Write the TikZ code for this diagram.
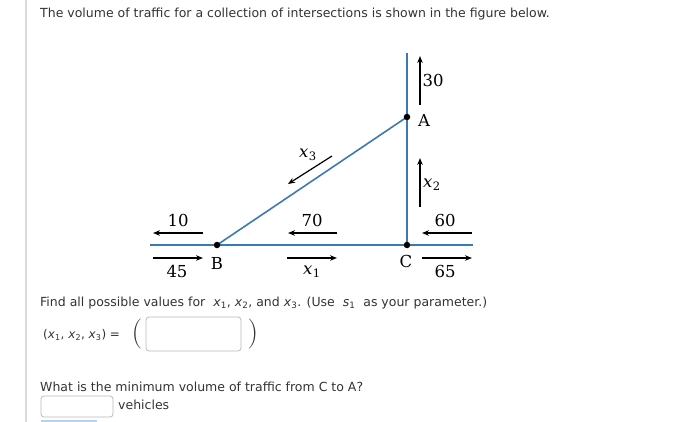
\documentclass[tikz,border=0pt]{standalone}
\usepackage{fontspec}
\newfontfamily\uifont{DejaVu Sans}
\newfontfamily\labfont{DejaVu Serif}
\usetikzlibrary{positioning, arrows, arrows.meta, backgrounds}
\definecolor{road}{HTML}{3B78B4}
\definecolor{rim}{HTML}{DADADA}
\definecolor{ink}{HTML}{333333}
\definecolor{focus}{HTML}{B9D3EE}
\newcommand{\vx}[1]{\textit{x}\textsubscript{#1}}
\newcommand{\fx}[1]{\textit{x}\kern0.5pt\textsubscript{#1}}
\tikzset{
  road/.style={draw=road, line width=1.6pt},
  flow/.style={-{Stealth[length=7pt,width=5.5pt]}, line width=1.2pt},
  junction/.style={circle, fill=black, inner sep=0pt, minimum size=6.5pt},
  num/.style={font=\labfont\fontsize{16.5}{20}\selectfont, inner sep=0pt},
  prompt/.style={font=\uifont\fontsize{12.5}{15}\selectfont, text=ink, anchor=west, inner sep=0pt},
  answerbox/.style={draw=gray!55, rounded corners=3pt, line width=0.8pt}
}

\begin{document}
\begin{tikzpicture}[x=1pt,y=-1pt]
\useasboundingbox (0,0) rectangle (700,422);
\draw[rim, line width=1.5pt] (26,0) -- (26,422);

\node[prompt] (title) at (40,14) {The volume of traffic for a collection of intersections is shown in the figure below.};

% intersections
\node[junction] (A) at (407,117) {};
\node[junction] (B) at (217,245) {};
\node[junction] (C) at (407,245) {};
\coordinate (W) at (150,245);
\coordinate (E) at (473,245);
\coordinate (N) at (407,53);

\begin{scope}[on background layer]
\draw[road] (W) -- (E);
\draw[road] (N) -- (C.center);
\draw[road] (B.center) -- (A.center);
\end{scope}

\node[num] (labA) at (424,120) {A};
\node[num] (labB) at (217,263) {B};
\node[num] (labC) at (406,261) {C};

% traffic arrows
\foreach \nm/\xa/\ya/\xb/\yb in {w10/203/233/153/233, w45/153/258/203/258,
    m70/337/233/288/233, mx1/287/258/337/258, e60/472/233/422/233,
    e65/422/258/472/258, n30/420/105/420/56, vx2/420/207/420/158,
    dx3/332/156/288/184}
{
  \coordinate (\nm s) at (\xa,\ya);
  \coordinate (\nm e) at (\xb,\yb);
  \draw[flow] (\nm s) -- (\nm e);
}

\node[num] (t10) at (178,220) {10};
\node[num] (t70) at (312,220) {70};
\node[num] (t60) at (445,220) {60};
\node[num] (t45) at (177,271) {45};
\node[num] (tx1) at (312,272) {\fx{1}};
\node[num] (t65) at (445,271) {65};
\node[num] (t30) at (433,80) {30};
\node[num] (tx2) at (432,185) {\fx{2}};
\node[num] (tx3) at (308,155) {\fx{3}};

% questions
\node[prompt] (ask1) at (40,303) {Find all possible values for \ \vx{1}, \vx{2}, and \vx{3}. (Use \ \textit{s}\textsubscript{1} \ as your parameter.)};
\node[prompt, font=\uifont\fontsize{12}{14}\selectfont] (tuple) at (43,335) {(\vx{1}, \vx{2}, \vx{3}) =};
\node[inner sep=0pt, text=ink, font=\fontsize{30}{30}\selectfont] (lpar) at (137,334) {(};
\node[answerbox, minimum width=95pt, minimum height=34pt, inner sep=0pt] (box1) at (193.5,334) {};
\node[inner sep=0pt, text=ink, font=\fontsize{30}{30}\selectfont] (rpar) at (253,334) {)};
\node[prompt] (ask2) at (40,387) {What is the minimum volume of traffic from C to A?};
\node[answerbox, minimum width=72pt, minimum height=21pt, inner sep=0pt] (box2) at (77,406.5) {};
\node[prompt] (unit) at (118,405) {vehicles};
\fill[focus] (41,419.5) rectangle (97,422);
\end{tikzpicture}
\end{document}
